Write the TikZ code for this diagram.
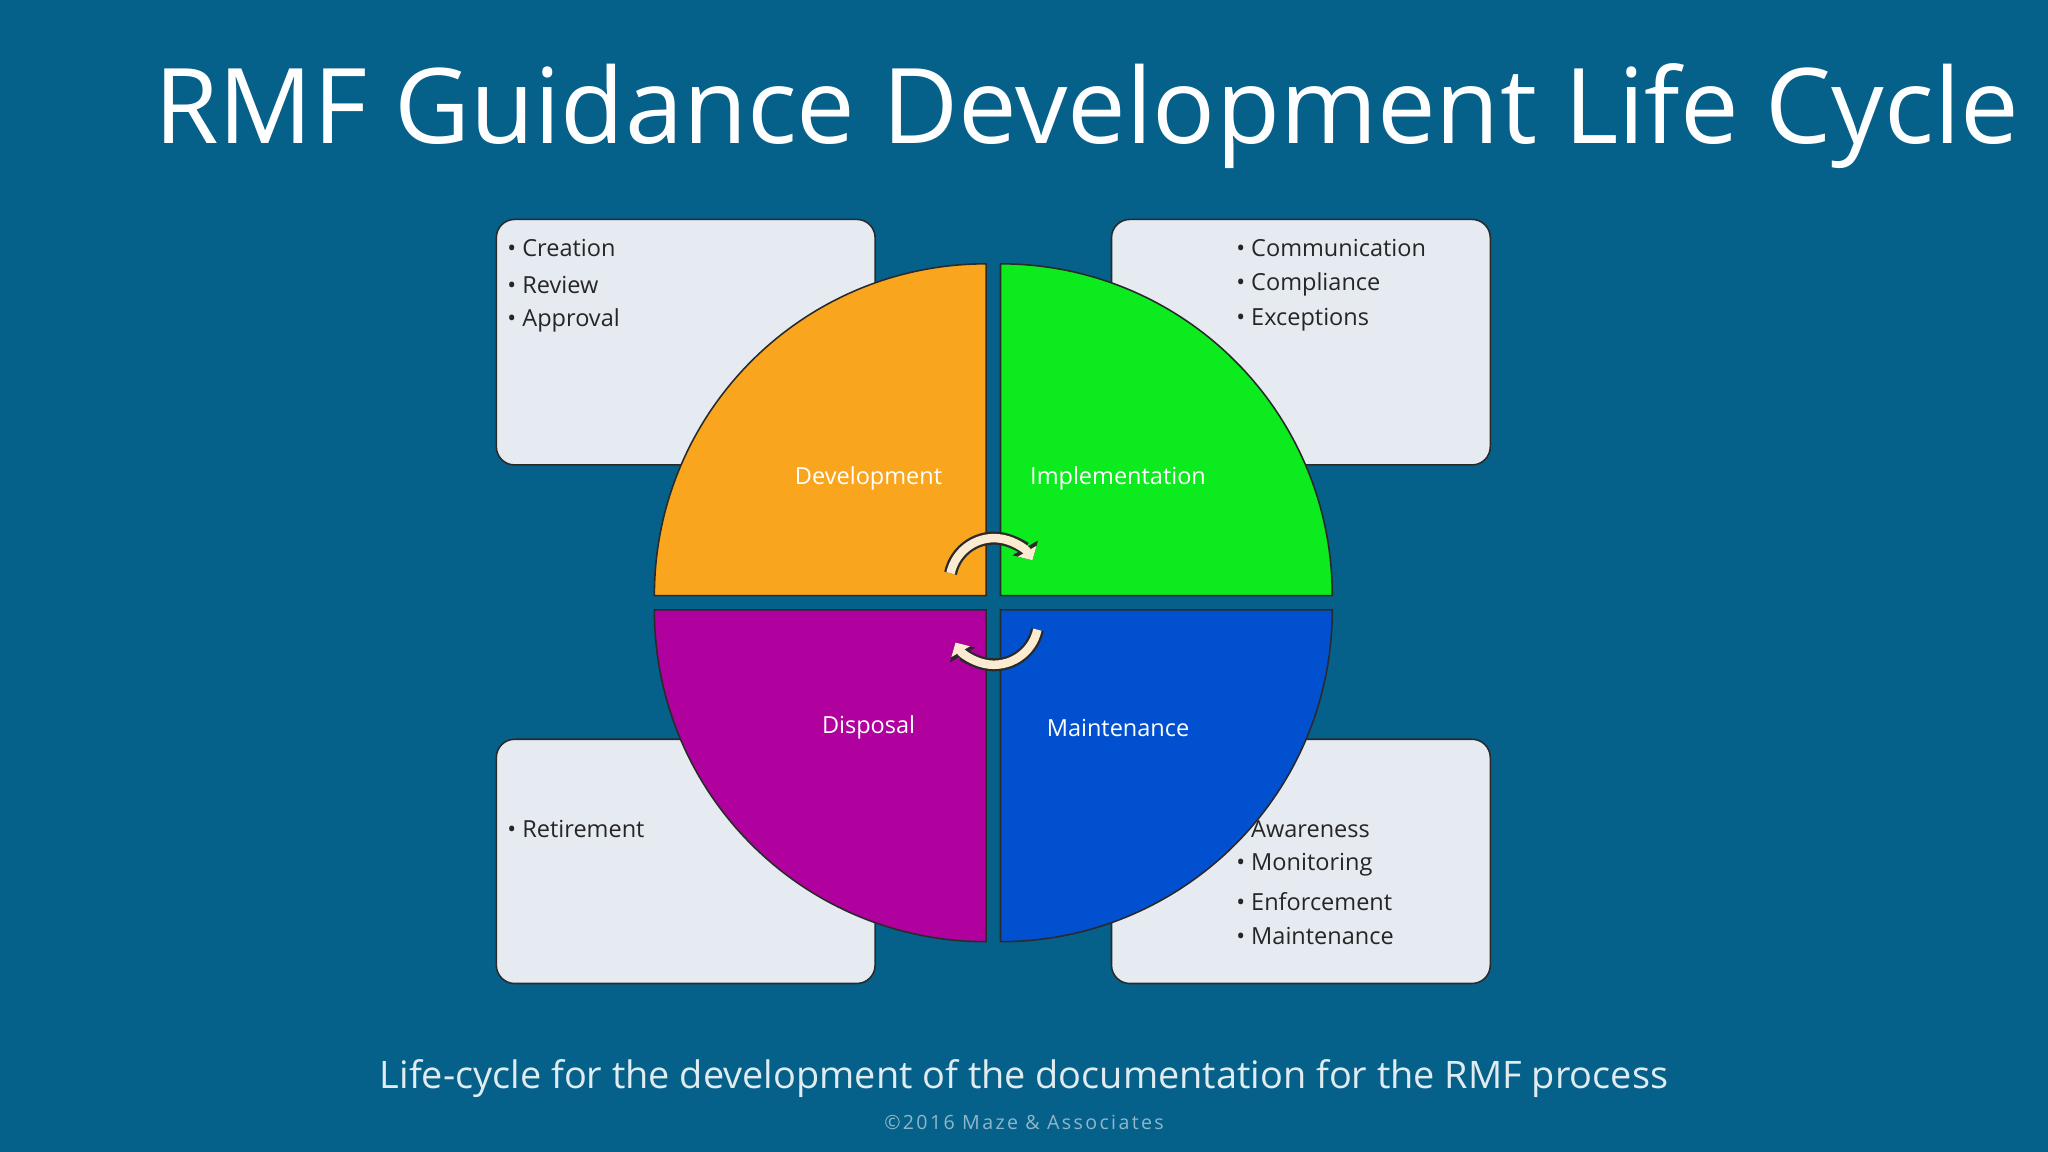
\documentclass[tikz,border=0pt]{standalone}
\usepackage{fontspec}
\setmainfont{Open Sans}
\usetikzlibrary{arrows.meta}
\definecolor{bg}{HTML}{05608A}
\definecolor{boxf}{HTML}{E6EBF1}
\definecolor{dev}{HTML}{F9A61E}
\definecolor{imp}{HTML}{0BEB1E}
\definecolor{dis}{HTML}{B0009E}
\definecolor{mai}{HTML}{0050D0}
\definecolor{cream}{HTML}{FBEBD0}
\definecolor{edge}{HTML}{2A2A2A}
\begin{document}
\begin{tikzpicture}[x=1pt,y=1pt,
  box/.style={draw=edge,line width=1.2pt,fill=boxf,rounded corners=14pt},
  quad/.style={draw=edge,line width=1.2pt},
  lab/.style={text=white,font=\fontsize{18}{20}\selectfont},
  item/.style={anchor=west,text=black!85,font=\fontsize{18}{20}\selectfont},
  arr/.style={line width=10pt,draw=edge,-{Triangle[length=11pt,width=22pt]}},
  arri/.style={line width=6.5pt,draw=cream,-{Triangle[length=8pt,width=16pt]}}]
\fill[bg] (0,0) rectangle (1568,882);
\useasboundingbox (0,0) rectangle (1568,882);
\node[anchor=base west,text=white,font=\fontsize{80}{90}\selectfont,inner sep=0] (title) at (118,772) {RMF Guidance Development Life Cycle};
% boxes
\draw[box] (380,714) rectangle (670,526);
\draw[box] (851,714) rectangle (1141,526);
\draw[box] (380,316) rectangle (670,129);
\draw[box] (851,316) rectangle (1141,129);
\node[item] (a1) at (385,692) {• Creation};
\node[item] (a2) at (385,664) {• Review};
\node[item] (a3) at (385,637) {• Approval};
\node[item] (b1) at (943,692) {• Communication};
\node[item] (b2) at (943,664) {• Compliance};
\node[item] (b3) at (943,637) {• Exceptions};
\node[item] (c1) at (385,247) {• Retirement};
\node[item] (d1) at (943,247) {• Awareness};
\node[item] (d2) at (943,220) {• Monitoring};
\node[item] (d3) at (943,192) {• Enforcement};
\node[item] (d4) at (943,165) {• Maintenance};
% quadrants
\draw[quad,fill=dev] (755,426) -- ++(-254,0) arc[start angle=180,end angle=90,radius=254] -- cycle;
\draw[quad,fill=imp] (766,426) -- ++(254,0) arc[start angle=0,end angle=90,radius=254] -- cycle;
\draw[quad,fill=dis] (755,415) -- ++(-254,0) arc[start angle=180,end angle=270,radius=254] -- cycle;
\draw[quad,fill=mai] (766,415) -- ++(254,0) arc[start angle=0,end angle=-90,radius=254] -- cycle;
\node[lab] (dev) at (665,516) {Development};
\node[lab] (imp) at (856,516) {Implementation};
\node[lab] (dis) at (665,325) {Disposal};
\node[lab] (mai) at (856,325) {Maintenance};
% cycle arrows
\draw[arr] (761,436) ++(168:34) arc[start angle=168,end angle=30,radius=34];
\draw[arri] (761,436) ++(168:34) arc[start angle=168,end angle=30,radius=34];
\draw[arr] (761,407) ++(-12:34) arc[start angle=-12,end angle=-150,radius=34];
\draw[arri] (761,407) ++(-12:34) arc[start angle=-12,end angle=-150,radius=34];
% captions
\node[text=white!88!bg,font=\fontsize{29}{32}\selectfont] (cap) at (784,56) {Life-cycle for the development of the documentation for the RMF process};
\node[text=white!55!bg,font=\fontsize{15}{16}\selectfont\addfontfeature{LetterSpace=12}] (copy) at (784,23) {©2016 Maze \& Associates};
\end{tikzpicture}
\end{document}
